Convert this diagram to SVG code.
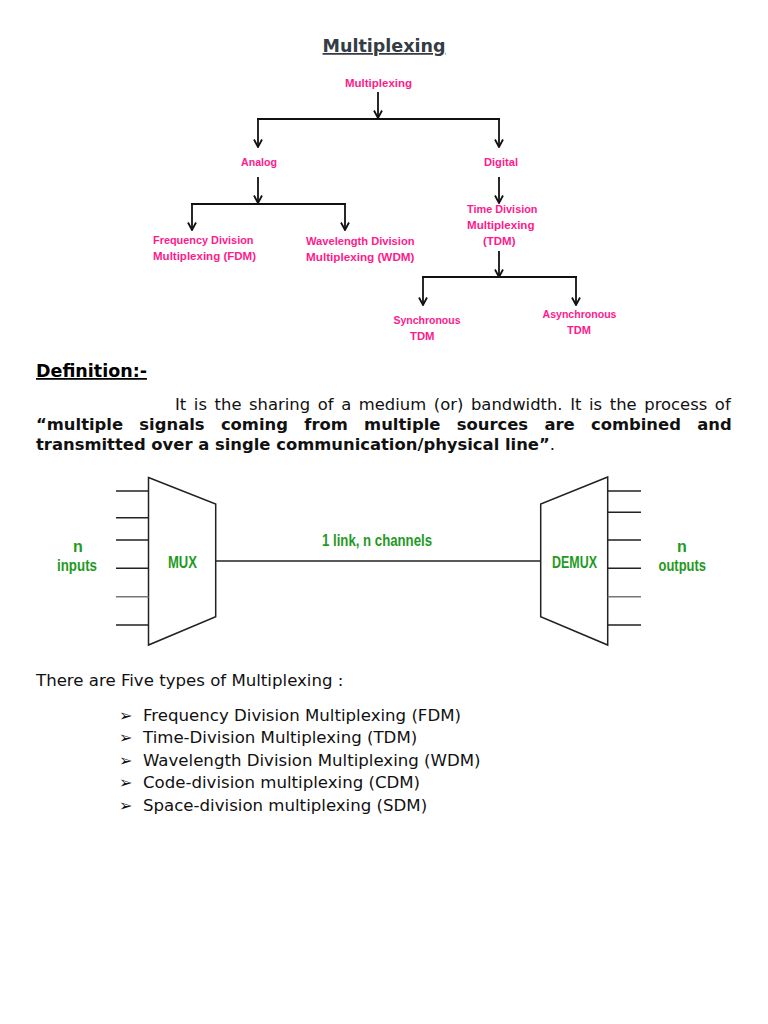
<svg xmlns="http://www.w3.org/2000/svg" width="768" height="1024" viewBox="0 0 768 1024">
<style>
.pk{font-family:"Liberation Sans",Arial,sans-serif;font-weight:bold;font-size:11px;fill:#ff1a8c}
.gr{font-family:"Liberation Sans",Arial,sans-serif;font-weight:bold;font-size:16px;fill:#1f9a1f}
.body{font-family:"DejaVu Sans",sans-serif;font-size:16.4px;fill:#111}
.lst{font-family:"DejaVu Sans",sans-serif;font-size:16.6px;fill:#111}
.b{font-weight:bold}
.hd{font-family:"DejaVu Sans",sans-serif;font-weight:bold;font-size:17.5px;text-decoration:underline}
.cn{stroke:#111;stroke-width:1.8;fill:none}
.mx{stroke:#222;stroke-width:1.5;fill:none}
</style>
<defs>
<marker id="ah" viewBox="0 0 10 10" refX="9" refY="5" markerWidth="10" markerHeight="10" markerUnits="userSpaceOnUse" orient="auto">
<path d="M1.5,1 L9,5 L1.5,9" fill="none" stroke="#111" stroke-width="1.8"/>
</marker>
</defs>
<rect width="768" height="1024" fill="#fff"/>

<text class="hd" x="384" y="52" text-anchor="middle" fill="#343c44">Multiplexing</text>

<g id="connectors">
<line class="cn" x1="378" y1="92" x2="378" y2="118" marker-end="url(#ah)"/>
<line class="cn" x1="257" y1="119" x2="500" y2="119"/>
<line class="cn" x1="258" y1="119" x2="258" y2="147" marker-end="url(#ah)"/>
<line class="cn" x1="499" y1="119" x2="499" y2="147" marker-end="url(#ah)"/>
<line class="cn" x1="258" y1="177" x2="258" y2="203" marker-end="url(#ah)"/>
<line class="cn" x1="191" y1="204" x2="346" y2="204"/>
<line class="cn" x1="192" y1="204" x2="192" y2="230" marker-end="url(#ah)"/>
<line class="cn" x1="345" y1="204" x2="345" y2="230" marker-end="url(#ah)"/>
<line class="cn" x1="499" y1="177" x2="499" y2="203" marker-end="url(#ah)"/>
<line class="cn" x1="499" y1="251" x2="499" y2="277" marker-end="url(#ah)"/>
<line class="cn" x1="422" y1="277" x2="577" y2="277"/>
<line class="cn" x1="423" y1="277" x2="423" y2="305" marker-end="url(#ah)"/>
<line class="cn" x1="576" y1="277" x2="576" y2="305" marker-end="url(#ah)"/>
</g>

<g id="n-root"><text class="pk" x="345" y="86.5" textLength="67" lengthAdjust="spacingAndGlyphs">Multiplexing</text></g>
<g id="n-analog"><text class="pk" x="241" y="165.5" textLength="36" lengthAdjust="spacingAndGlyphs">Analog</text></g>
<g id="n-digital"><text class="pk" x="484" y="166" textLength="34" lengthAdjust="spacingAndGlyphs">Digital</text></g>
<g id="n-fdm">
<text class="pk" x="153" y="243.5" textLength="100.5" lengthAdjust="spacingAndGlyphs">Frequency Division</text>
<text class="pk" x="153" y="260" textLength="103" lengthAdjust="spacingAndGlyphs">Multiplexing (FDM)</text>
</g>
<g id="n-wdm">
<text class="pk" x="306" y="245" textLength="108.5" lengthAdjust="spacingAndGlyphs">Wavelength Division</text>
<text class="pk" x="306" y="261" textLength="108.5" lengthAdjust="spacingAndGlyphs">Multiplexing (WDM)</text>
</g>
<g id="n-tdm">
<text class="pk" x="467" y="212.5" textLength="70.5" lengthAdjust="spacingAndGlyphs">Time Division</text>
<text class="pk" x="467" y="228.5" textLength="67.5" lengthAdjust="spacingAndGlyphs">Multiplexing</text>
<text class="pk" x="483" y="244.5" textLength="32.5" lengthAdjust="spacingAndGlyphs">(TDM)</text>
</g>
<g id="n-sync">
<text class="pk" x="393.5" y="324" textLength="67" lengthAdjust="spacingAndGlyphs">Synchronous</text>
<text class="pk" x="410" y="340" textLength="24.5" lengthAdjust="spacingAndGlyphs">TDM</text>
</g>
<g id="n-async">
<text class="pk" x="542.5" y="318" textLength="74" lengthAdjust="spacingAndGlyphs">Asynchronous</text>
<text class="pk" x="567" y="334" textLength="24" lengthAdjust="spacingAndGlyphs">TDM</text>
</g>

<text class="hd" x="36" y="377" fill="#000">Definition:-</text>
<text class="body" x="175" y="410" word-spacing="2.4">It is the sharing of a medium (or) bandwidth. It is the process of</text>
<text class="body b" x="36" y="430" word-spacing="10.6">“multiple signals coming from multiple sources are combined and</text>
<text class="body" x="36" y="450"><tspan class="b">transmitted over a single communication/physical line”</tspan>.</text>

<g id="mux">
<path class="mx" d="M148.5,477.5 L215.7,504 L215.7,616.7 L148.5,645 Z"/>
<path class="mx" d="M116,491 H148.5 M116,517.7 H148.5 M116,540 H148.5 M116,568.3 H148.5 M116,625 H148.5"/>
<path d="M116,596.7 H148.5" stroke="#777" stroke-width="1.5"/>
<text class="gr" x="168" y="567.5" textLength="29" lengthAdjust="spacingAndGlyphs">MUX</text>
</g>
<g id="inputs-label">
<text class="gr" x="78" y="551.5" text-anchor="middle">n</text>
<text class="gr" x="57" y="571" textLength="40" lengthAdjust="spacingAndGlyphs">inputs</text>
</g>
<g id="link">
<line class="mx" x1="215.7" y1="561" x2="540.7" y2="561"/>
<text class="gr" x="322" y="546" font-size="14" textLength="110" lengthAdjust="spacingAndGlyphs">1 link, n channels</text>
</g>
<g id="demux">
<path class="mx" d="M607.7,477 L540.7,504 L540.7,616.7 L607.7,645 Z"/>
<path class="mx" d="M607.7,491 H641 M607.7,512.3 H641 M607.7,540 H641 M607.7,568.3 H641 M607.7,625 H641"/>
<path d="M607.7,596.7 H641" stroke="#777" stroke-width="1.5"/>
<text class="gr" x="552" y="567.5" textLength="45" lengthAdjust="spacingAndGlyphs">DEMUX</text>
</g>
<g id="outputs-label">
<text class="gr" x="682" y="551.5" text-anchor="middle">n</text>
<text class="gr" x="658.5" y="571" textLength="47.5" lengthAdjust="spacingAndGlyphs">outputs</text>
</g>

<text class="lst" x="36" y="686">There are Five types of Multiplexing :</text>
<g id="list" class="lst">
<text x="119" y="721" font-size="16">➢</text><text x="143" y="721">Frequency Division Multiplexing (FDM)</text>
<text x="119" y="743.4" font-size="16">➢</text><text x="143" y="743.4">Time-Division Multiplexing (TDM)</text>
<text x="119" y="765.8" font-size="16">➢</text><text x="143" y="765.8">Wavelength Division Multiplexing (WDM)</text>
<text x="119" y="788.2" font-size="16">➢</text><text x="143" y="788.2">Code-division multiplexing (CDM)</text>
<text x="119" y="810.6" font-size="16">➢</text><text x="143" y="810.6">Space-division multiplexing (SDM)</text>
</g>
</svg>
